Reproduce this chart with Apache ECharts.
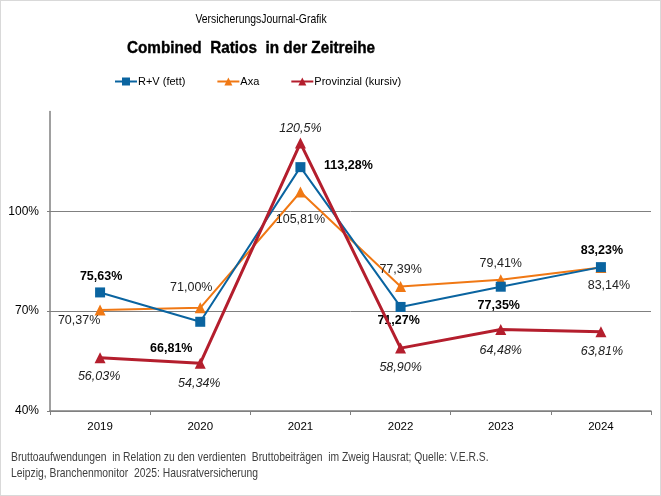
<!DOCTYPE html>
<html>
<head>
<meta charset="utf-8">
<script src="https://cdn.jsdelivr.net/npm/echarts@6/dist/echarts.min.js"></script>
<style>
  html, body { margin: 0; padding: 0; background: #fff; }
  #chart { width: 661px; height: 496px; box-sizing: border-box; border: 1px solid #d9d9d9; }
</style>
</head>
<body>
<div id="chart"></div>
<script>
// Daten
const years = ['2019', '2020', '2021', '2022', '2023', '2024'];
const ruv = [75.63, 66.81, 113.28, 71.27, 77.35, 83.23];
const axa = [70.37, 71.00, 105.81, 77.39, 79.41, 83.14];
const provinzial = [56.03, 54.34, 120.5, 58.90, 64.48, 63.81];
const provinzialDigits = [2, 2, 1, 2, 2, 2];

// Label-Verschiebung relativ zum Punkt (Stil, keine Daten)
const ruvOffsets = [[1, -16], [-29, 27], [48, -2], [-2, 14], [-2, 19], [1, -17]];
const axaOffsets = [[-21, 11], [-9, -20], [0, 28], [0, -17], [0, -16], [8, 18]];
const provOffsets = [[-1, 19], [-1, 20], [0, -15], [0, 19], [0, 21], [1, 20]];

const fmt = (v, d) => v.toFixed(d).replace('.', ',') + '%';

function points(values, offsets, digits) {
  return values.map((v, i) => ({
    value: v,
    label: {
      offset: offsets[i],
      formatter: () => fmt(v, digits ? digits[i] : 2)
    }
  }));
}

const chart = echarts.init(document.getElementById('chart'));
const baseFont = 'Liberation Sans, Arial, sans-serif';

chart.setOption({
  animation: false,
  textStyle: { fontFamily: baseFont },
  legend: {
    left: 108, top: 70,
    itemWidth: 22, itemHeight: 10, itemGap: 31,
    textStyle: { fontSize: 11, color: '#000', padding: [0, 0, 0, -4] },
    data: ['R+V (fett)', 'Axa', 'Provinzial (kursiv)']
  },
  // Ueberschriften und Fussnote, leicht schmal gezogen wie im Original
  graphic: [
    {
      type: 'text', x: 260, y: 18, scaleX: 0.8,
      style: {
        text: 'VersicherungsJournal-Grafik', align: 'center', verticalAlign: 'middle',
        font: '13px ' + baseFont, fill: '#000'
      }
    },
    {
      type: 'text', x: 250, y: 47, scaleX: 0.9,
      style: {
        text: 'Combined  Ratios  in der Zeitreihe', align: 'center', verticalAlign: 'middle',
        font: 'bold 17px ' + baseFont, fill: '#000', stroke: '#000', lineWidth: 0.4
      }
    },
    {
      type: 'text', x: 10, y: 448, scaleX: 0.795,
      style: {
        text: 'Bruttoaufwendungen  in Relation zu den verdienten  Bruttobeiträgen  im Zweig Hausrat; Quelle: V.E.R.S.\nLeipzig, Branchenmonitor  2025: Hausratversicherung',
        align: 'left', verticalAlign: 'top',
        font: '13px ' + baseFont, fill: '#404040', lineHeight: 16
      }
    }
  ],
  grid: { left: 49, right: 9, top: 110.5, bottom: 84, containLabel: false },
  xAxis: {
    type: 'category',
    data: years,
    boundaryGap: true,
    axisLine: { lineStyle: { color: '#808080', width: 1.5 } },
    axisTick: { show: true, length: 4, lineStyle: { color: '#808080' } },
    axisLabel: { color: '#000', fontSize: 11.5, margin: 10 }
  },
  yAxis: {
    type: 'value',
    min: 40, max: 130, interval: 30,
    axisLine: { show: true, lineStyle: { color: '#808080', width: 1.5 } },
    axisTick: { show: true, length: 3, lineStyle: { color: '#808080' } },
    axisLabel: { color: '#000', fontSize: 12, margin: 11, formatter: v => v + '%', showMaxLabel: false },
    splitLine: { show: true, lineStyle: { color: ['#808080', '#808080', '#808080', 'rgba(0,0,0,0)'], width: 1 } }
  },
  series: [
    {
      name: 'R+V (fett)',
      type: 'line',
      data: points(ruv, ruvOffsets),
      symbol: 'rect', symbolSize: 10,
      itemStyle: { color: '#0a64a0' },
      lineStyle: { color: '#0a64a0', width: 2 },
      z: 3,
      label: { show: true, position: 'inside', color: '#000', fontSize: 12.5, fontWeight: 'bold' }
    },
    {
      name: 'Axa',
      type: 'line',
      data: points(axa, axaOffsets),
      symbol: 'triangle', symbolSize: 11,
      itemStyle: { color: '#f07814' },
      lineStyle: { color: '#f07814', width: 2 },
      z: 2,
      label: { show: true, position: 'inside', color: '#222', fontSize: 12.5 }
    },
    {
      name: 'Provinzial (kursiv)',
      type: 'line',
      data: points(provinzial, provOffsets, provinzialDigits),
      symbol: 'triangle', symbolSize: 11,
      itemStyle: { color: '#b41e2d' },
      lineStyle: { color: '#b41e2d', width: 3 },
      z: 4,
      label: { show: true, position: 'inside', color: '#222', fontSize: 12.5, fontStyle: 'italic' }
    }
  ]
});
</script>
</body>
</html>
